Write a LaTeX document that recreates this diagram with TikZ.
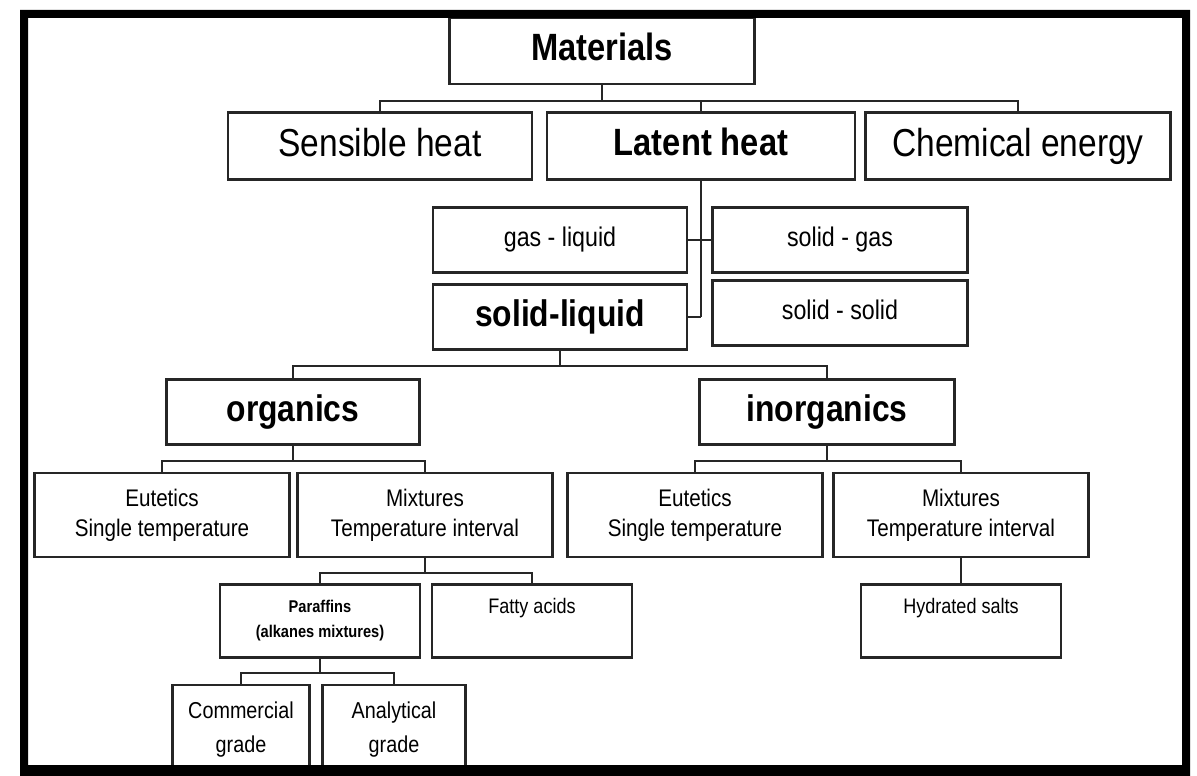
\documentclass[tikz,border=0pt]{standalone}
\usepackage{fontspec}
\setmainfont{Liberation Sans}
\newfontfamily\nar[FakeStretch=0.86]{Liberation Sans}
\newcommand{\vy}{\vphantom{Mgy}}
\begin{document}
\begin{tikzpicture}[x=1pt,y=-1pt,
  bx/.style={draw=black!85,line width=2.2pt,fill=white,inner sep=1pt,align=center,font=\nar},
  ln/.style={draw=black!85,line width=2.2pt}]
\useasboundingbox (0,0) rectangle (1197,776);
\fill[white] (0,0) rectangle (1197,776);
\node[bx,minimum width=305,minimum height=66,font=\nar\fontsize{38}{40}\selectfont\bfseries] (mat) at (602,51) {\vy Materials};
\node[bx,minimum width=304,minimum height=67,font=\nar\fontsize{39}{40}\selectfont] (sen) at (380,146) {\vy Sensible heat};
\node[bx,minimum width=308,minimum height=67,font=\nar\fontsize{38}{40}\selectfont\bfseries] (lat) at (701,146) {\vy Latent heat};
\node[bx,minimum width=305,minimum height=67,font=\nar\fontsize{39}{40}\selectfont] (che) at (1018,146) {\vy Chemical energy};
\node[bx,minimum width=254,minimum height=65,font=\nar\fontsize{27}{30}\selectfont] (gl) at (560,240) {\vy gas - liquid};
\node[bx,minimum width=255,minimum height=65,font=\nar\fontsize{27}{30}\selectfont] (sg) at (840,240) {\vy solid - gas};
\node[bx,minimum width=254,minimum height=65,font=\nar\fontsize{37}{40}\selectfont\bfseries] (sl) at (560,317) {\vy solid-liquid};
\node[bx,minimum width=255,minimum height=65,font=\nar\fontsize{27}{30}\selectfont] (ss) at (840,313) {\vy solid - solid};
\node[bx,minimum width=253,minimum height=65,font=\nar\fontsize{37}{40}\selectfont\bfseries] (org) at (293,412) {\vy organics};
\node[bx,minimum width=255,minimum height=65,font=\nar\fontsize{37}{40}\selectfont\bfseries] (ino) at (827,412) {\vy inorganics};
\node[bx,minimum width=255,minimum height=84,font=\nar\fontsize{24}{30}\selectfont] (oe) at (162,515) {Eutetics\\Single temperature};
\node[bx,minimum width=255,minimum height=84,font=\nar\fontsize{24}{30}\selectfont] (om) at (425,515) {Mixtures\\Temperature interval};
\node[bx,minimum width=255,minimum height=84,font=\nar\fontsize{24}{30}\selectfont] (ie) at (695,515) {Eutetics\\Single temperature};
\node[bx,minimum width=255,minimum height=84,font=\nar\fontsize{24}{30}\selectfont] (im) at (961,515) {Mixtures\\Temperature interval};
\node[bx,minimum width=200,minimum height=73,font=\nar\fontsize{17}{25}\selectfont\bfseries] (par) at (320,621) {Paraffins\\(alkanes mixtures)};
\node[bx,minimum width=200,minimum height=73,font=\nar\fontsize{21}{24}\selectfont,text depth=30pt] (fat) at (532,621) {Fatty acids};
\node[bx,minimum width=200,minimum height=73,font=\nar\fontsize{21}{24}\selectfont,text depth=30pt] (hyd) at (961,621) {Hydrated salts};
\node[bx,minimum width=137,minimum height=90,font=\nar\fontsize{23}{34}\selectfont] (com) at (241,730) {Commercial\\grade};
\node[bx,minimum width=143,minimum height=90,font=\nar\fontsize{23}{34}\selectfont] (ana) at (394,730) {Analytical\\grade};
\draw[ln] (mat.south) -- ++(0,16) coordinate (m1);
\draw[ln] (sen.north) |- (m1) -| (che.north);
\draw[ln] (m1) -| (lat.north);
\draw[ln] (lat.south) -- (lat.south |- sl.east) coordinate (l2);
\draw[ln] (gl.east) -- (sg.west);
\draw[ln] (sl.east) -- (l2);
\draw[ln] (sl.south) -- ++(0,15) coordinate (s1);
\draw[ln] (org.north) |- (s1) -| (ino.north);
\draw[ln] (org.south) -- ++(0,15) coordinate (o1);
\draw[ln] (oe.north) |- (o1) -| (om.north);
\draw[ln] (ino.south) -- ++(0,15) coordinate (i1);
\draw[ln] (ie.north) |- (i1) -| (im.north);
\draw[ln] (om.south) -- ++(0,15) coordinate (p1);
\draw[ln] (par.north) |- (p1) -| (fat.north);
\draw[ln] (im.south) -- (hyd.north);
\draw[ln] (par.south) -- ++(0,14) coordinate (c1);
\draw[ln] (com.north) |- (c1) -| (ana.north);
\fill[black,even odd rule] (20,10) rectangle (1190,776) (28,18) rectangle (1182,765);
\end{tikzpicture}
\end{document}
